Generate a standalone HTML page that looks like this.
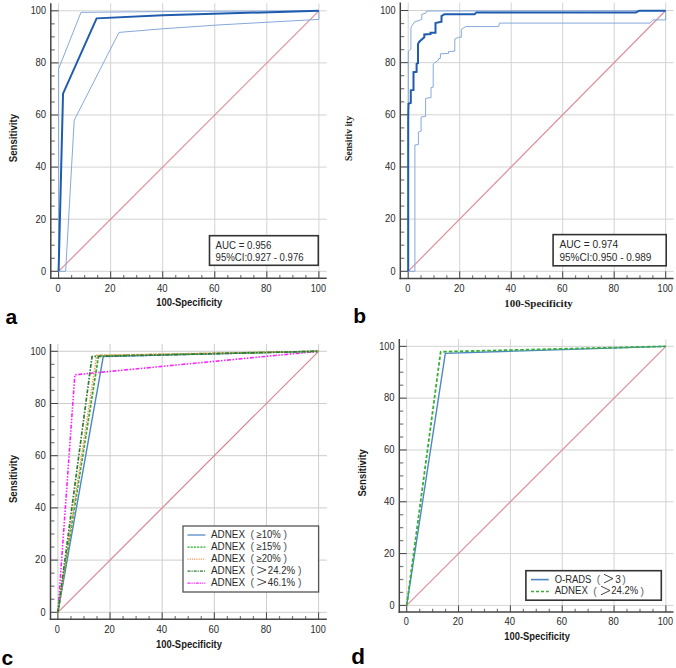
<!DOCTYPE html>
<html><head><meta charset="utf-8"><style>
html,body{margin:0;padding:0;background:#fff;}
svg{display:block;}
text{font-family:"Liberation Sans", sans-serif;}
.tl{font-size:10.5px;fill:#2a2a2a;}
</style></head><body>
<svg width="676" height="668" viewBox="0 0 676 668" font-family='"Liberation Sans", sans-serif'>
<rect width="676" height="668" fill="#fff"/>
<line x1="58.6" y1="3.3" x2="58.6" y2="278.3" stroke="#d3d3d3" stroke-width="1"/>
<line x1="50.8" y1="271.3" x2="326.7" y2="271.3" stroke="#d3d3d3" stroke-width="1"/>
<line x1="110.66" y1="3.3" x2="110.66" y2="278.3" stroke="#d3d3d3" stroke-width="1"/>
<line x1="50.8" y1="219.2" x2="326.7" y2="219.2" stroke="#d3d3d3" stroke-width="1"/>
<line x1="162.72" y1="3.3" x2="162.72" y2="278.3" stroke="#d3d3d3" stroke-width="1"/>
<line x1="50.8" y1="167.1" x2="326.7" y2="167.1" stroke="#d3d3d3" stroke-width="1"/>
<line x1="214.78" y1="3.3" x2="214.78" y2="278.3" stroke="#d3d3d3" stroke-width="1"/>
<line x1="50.8" y1="115" x2="326.7" y2="115" stroke="#d3d3d3" stroke-width="1"/>
<line x1="266.84" y1="3.3" x2="266.84" y2="278.3" stroke="#d3d3d3" stroke-width="1"/>
<line x1="50.8" y1="62.9" x2="326.7" y2="62.9" stroke="#d3d3d3" stroke-width="1"/>
<line x1="318.9" y1="3.3" x2="318.9" y2="278.3" stroke="#d3d3d3" stroke-width="1"/>
<line x1="50.8" y1="10.8" x2="326.7" y2="10.8" stroke="#d3d3d3" stroke-width="1"/>
<line x1="50.8" y1="271.3" x2="58.6" y2="271.3" stroke="#454545" stroke-width="1"/>
<line x1="58.6" y1="278.3" x2="58.6" y2="271.3" stroke="#454545" stroke-width="1"/>
<line x1="50.8" y1="258.28" x2="54.8" y2="258.28" stroke="#7a7a7a" stroke-width="1.2"/>
<line x1="71.61" y1="278.3" x2="71.61" y2="275.1" stroke="#7a7a7a" stroke-width="1.2"/>
<line x1="50.8" y1="245.25" x2="54.8" y2="245.25" stroke="#7a7a7a" stroke-width="1.2"/>
<line x1="84.63" y1="278.3" x2="84.63" y2="275.1" stroke="#7a7a7a" stroke-width="1.2"/>
<line x1="50.8" y1="232.23" x2="54.8" y2="232.23" stroke="#7a7a7a" stroke-width="1.2"/>
<line x1="97.64" y1="278.3" x2="97.64" y2="275.1" stroke="#7a7a7a" stroke-width="1.2"/>
<line x1="50.8" y1="219.2" x2="58.6" y2="219.2" stroke="#454545" stroke-width="1"/>
<line x1="110.66" y1="278.3" x2="110.66" y2="271.3" stroke="#454545" stroke-width="1"/>
<line x1="50.8" y1="206.18" x2="54.8" y2="206.18" stroke="#7a7a7a" stroke-width="1.2"/>
<line x1="123.67" y1="278.3" x2="123.67" y2="275.1" stroke="#7a7a7a" stroke-width="1.2"/>
<line x1="50.8" y1="193.15" x2="54.8" y2="193.15" stroke="#7a7a7a" stroke-width="1.2"/>
<line x1="136.69" y1="278.3" x2="136.69" y2="275.1" stroke="#7a7a7a" stroke-width="1.2"/>
<line x1="50.8" y1="180.12" x2="54.8" y2="180.12" stroke="#7a7a7a" stroke-width="1.2"/>
<line x1="149.7" y1="278.3" x2="149.7" y2="275.1" stroke="#7a7a7a" stroke-width="1.2"/>
<line x1="50.8" y1="167.1" x2="58.6" y2="167.1" stroke="#454545" stroke-width="1"/>
<line x1="162.72" y1="278.3" x2="162.72" y2="271.3" stroke="#454545" stroke-width="1"/>
<line x1="50.8" y1="154.08" x2="54.8" y2="154.08" stroke="#7a7a7a" stroke-width="1.2"/>
<line x1="175.73" y1="278.3" x2="175.73" y2="275.1" stroke="#7a7a7a" stroke-width="1.2"/>
<line x1="50.8" y1="141.05" x2="54.8" y2="141.05" stroke="#7a7a7a" stroke-width="1.2"/>
<line x1="188.75" y1="278.3" x2="188.75" y2="275.1" stroke="#7a7a7a" stroke-width="1.2"/>
<line x1="50.8" y1="128.03" x2="54.8" y2="128.03" stroke="#7a7a7a" stroke-width="1.2"/>
<line x1="201.76" y1="278.3" x2="201.76" y2="275.1" stroke="#7a7a7a" stroke-width="1.2"/>
<line x1="50.8" y1="115" x2="58.6" y2="115" stroke="#454545" stroke-width="1"/>
<line x1="214.78" y1="278.3" x2="214.78" y2="271.3" stroke="#454545" stroke-width="1"/>
<line x1="50.8" y1="101.98" x2="54.8" y2="101.98" stroke="#7a7a7a" stroke-width="1.2"/>
<line x1="227.79" y1="278.3" x2="227.79" y2="275.1" stroke="#7a7a7a" stroke-width="1.2"/>
<line x1="50.8" y1="88.95" x2="54.8" y2="88.95" stroke="#7a7a7a" stroke-width="1.2"/>
<line x1="240.81" y1="278.3" x2="240.81" y2="275.1" stroke="#7a7a7a" stroke-width="1.2"/>
<line x1="50.8" y1="75.93" x2="54.8" y2="75.93" stroke="#7a7a7a" stroke-width="1.2"/>
<line x1="253.82" y1="278.3" x2="253.82" y2="275.1" stroke="#7a7a7a" stroke-width="1.2"/>
<line x1="50.8" y1="62.9" x2="58.6" y2="62.9" stroke="#454545" stroke-width="1"/>
<line x1="266.84" y1="278.3" x2="266.84" y2="271.3" stroke="#454545" stroke-width="1"/>
<line x1="50.8" y1="49.88" x2="54.8" y2="49.88" stroke="#7a7a7a" stroke-width="1.2"/>
<line x1="279.85" y1="278.3" x2="279.85" y2="275.1" stroke="#7a7a7a" stroke-width="1.2"/>
<line x1="50.8" y1="36.85" x2="54.8" y2="36.85" stroke="#7a7a7a" stroke-width="1.2"/>
<line x1="292.87" y1="278.3" x2="292.87" y2="275.1" stroke="#7a7a7a" stroke-width="1.2"/>
<line x1="50.8" y1="23.83" x2="54.8" y2="23.83" stroke="#7a7a7a" stroke-width="1.2"/>
<line x1="305.88" y1="278.3" x2="305.88" y2="275.1" stroke="#7a7a7a" stroke-width="1.2"/>
<line x1="50.8" y1="10.8" x2="58.6" y2="10.8" stroke="#454545" stroke-width="1"/>
<line x1="318.9" y1="278.3" x2="318.9" y2="271.3" stroke="#454545" stroke-width="1"/>
<line x1="50.8" y1="3.3" x2="50.8" y2="279.05" stroke="#454545" stroke-width="1.5"/>
<line x1="50.05" y1="278.3" x2="326.7" y2="278.3" stroke="#454545" stroke-width="1.5"/>
<text x="46" y="274.6" text-anchor="end" class="tl" textLength="5.1" lengthAdjust="spacingAndGlyphs">0</text>
<text x="58.1" y="291.7" text-anchor="middle" class="tl" textLength="5.1" lengthAdjust="spacingAndGlyphs">0</text>
<text x="46" y="222.5" text-anchor="end" class="tl" textLength="10.6" lengthAdjust="spacingAndGlyphs">20</text>
<text x="110.16" y="291.7" text-anchor="middle" class="tl" textLength="10.6" lengthAdjust="spacingAndGlyphs">20</text>
<text x="46" y="170.4" text-anchor="end" class="tl" textLength="10.6" lengthAdjust="spacingAndGlyphs">40</text>
<text x="162.22" y="291.7" text-anchor="middle" class="tl" textLength="10.6" lengthAdjust="spacingAndGlyphs">40</text>
<text x="46" y="118.3" text-anchor="end" class="tl" textLength="10.6" lengthAdjust="spacingAndGlyphs">60</text>
<text x="214.28" y="291.7" text-anchor="middle" class="tl" textLength="10.6" lengthAdjust="spacingAndGlyphs">60</text>
<text x="46" y="66.2" text-anchor="end" class="tl" textLength="10.6" lengthAdjust="spacingAndGlyphs">80</text>
<text x="266.34" y="291.7" text-anchor="middle" class="tl" textLength="10.6" lengthAdjust="spacingAndGlyphs">80</text>
<text x="46" y="14.1" text-anchor="end" class="tl" textLength="15.2" lengthAdjust="spacingAndGlyphs">100</text>
<text x="318.4" y="291.7" text-anchor="middle" class="tl" textLength="15.2" lengthAdjust="spacingAndGlyphs">100</text>
<line x1="58.6" y1="271.3" x2="318.9" y2="10.8" stroke="#df8e9a" stroke-width="1.2"/>
<polyline points="58.6,271.3 58.6,68.89 80.99,12.36 188.75,11.32 318.9,10.8" fill="none" stroke="#86a9dc" stroke-width="1" stroke-linejoin="miter" stroke-opacity="1"/>
<polyline points="58.6,271.3 65.63,271.3 74.22,120.21 118.99,32.42 162.72,28.77 219.99,24.87 318.9,19.4 318.9,10.8" fill="none" stroke="#86a9dc" stroke-width="1" stroke-linejoin="miter" stroke-opacity="1"/>
<polyline points="58.6,271.3 63.03,93.64 96.6,18.35 162.72,15.23 318.9,10.8" fill="none" stroke="#1f5cae" stroke-width="2" stroke-linejoin="miter" stroke-opacity="1"/>
<rect x="209.5" y="235.7" width="108.8" height="29.6" fill="#fff" stroke="#333" stroke-width="1.6"/>
<text x="215.6" y="248.7" font-size="10.5" text-anchor="start" fill="#2a2a2a" textLength="55.7" lengthAdjust="spacingAndGlyphs" >AUC = 0.956</text>
<text x="215.6" y="260.8" font-size="10.5" text-anchor="start" fill="#2a2a2a" textLength="88" lengthAdjust="spacingAndGlyphs" >95%CI:0.927 - 0.976</text>
<text x="189.2" y="306.2" text-anchor="middle" style='font-family:"Liberation Sans", sans-serif' font-weight="bold" font-size="10.5" textLength="66" lengthAdjust="spacingAndGlyphs" fill="#1a1a1a">100-Specificity</text>
<text transform="translate(17.3,138.1) rotate(-90)" x="0" y="0" text-anchor="middle" style='font-family:"Liberation Sans", sans-serif' font-weight="bold" font-size="10.2" textLength="48.2" lengthAdjust="spacingAndGlyphs" fill="#1a1a1a">Sensitivity</text>
<text x="5.5" y="324.3" style='font-family:"Liberation Sans", sans-serif' font-weight="bold" font-size="21" fill="#000">a</text>
<line x1="408.2" y1="2.6" x2="408.2" y2="278.5" stroke="#d3d3d3" stroke-width="1"/>
<line x1="400.3" y1="271.3" x2="673.6" y2="271.3" stroke="#d3d3d3" stroke-width="1"/>
<line x1="459.7" y1="2.6" x2="459.7" y2="278.5" stroke="#d3d3d3" stroke-width="1"/>
<line x1="400.3" y1="219.14" x2="673.6" y2="219.14" stroke="#d3d3d3" stroke-width="1"/>
<line x1="511.2" y1="2.6" x2="511.2" y2="278.5" stroke="#d3d3d3" stroke-width="1"/>
<line x1="400.3" y1="166.98" x2="673.6" y2="166.98" stroke="#d3d3d3" stroke-width="1"/>
<line x1="562.7" y1="2.6" x2="562.7" y2="278.5" stroke="#d3d3d3" stroke-width="1"/>
<line x1="400.3" y1="114.82" x2="673.6" y2="114.82" stroke="#d3d3d3" stroke-width="1"/>
<line x1="614.2" y1="2.6" x2="614.2" y2="278.5" stroke="#d3d3d3" stroke-width="1"/>
<line x1="400.3" y1="62.66" x2="673.6" y2="62.66" stroke="#d3d3d3" stroke-width="1"/>
<line x1="665.7" y1="2.6" x2="665.7" y2="278.5" stroke="#d3d3d3" stroke-width="1"/>
<line x1="400.3" y1="10.5" x2="673.6" y2="10.5" stroke="#d3d3d3" stroke-width="1"/>
<line x1="400.3" y1="271.3" x2="408.2" y2="271.3" stroke="#454545" stroke-width="1"/>
<line x1="408.2" y1="278.5" x2="408.2" y2="271.3" stroke="#454545" stroke-width="1"/>
<line x1="400.3" y1="258.26" x2="404.3" y2="258.26" stroke="#7a7a7a" stroke-width="1.2"/>
<line x1="421.07" y1="278.5" x2="421.07" y2="275.3" stroke="#7a7a7a" stroke-width="1.2"/>
<line x1="400.3" y1="245.22" x2="404.3" y2="245.22" stroke="#7a7a7a" stroke-width="1.2"/>
<line x1="433.95" y1="278.5" x2="433.95" y2="275.3" stroke="#7a7a7a" stroke-width="1.2"/>
<line x1="400.3" y1="232.18" x2="404.3" y2="232.18" stroke="#7a7a7a" stroke-width="1.2"/>
<line x1="446.82" y1="278.5" x2="446.82" y2="275.3" stroke="#7a7a7a" stroke-width="1.2"/>
<line x1="400.3" y1="219.14" x2="408.2" y2="219.14" stroke="#454545" stroke-width="1"/>
<line x1="459.7" y1="278.5" x2="459.7" y2="271.3" stroke="#454545" stroke-width="1"/>
<line x1="400.3" y1="206.1" x2="404.3" y2="206.1" stroke="#7a7a7a" stroke-width="1.2"/>
<line x1="472.57" y1="278.5" x2="472.57" y2="275.3" stroke="#7a7a7a" stroke-width="1.2"/>
<line x1="400.3" y1="193.06" x2="404.3" y2="193.06" stroke="#7a7a7a" stroke-width="1.2"/>
<line x1="485.45" y1="278.5" x2="485.45" y2="275.3" stroke="#7a7a7a" stroke-width="1.2"/>
<line x1="400.3" y1="180.02" x2="404.3" y2="180.02" stroke="#7a7a7a" stroke-width="1.2"/>
<line x1="498.32" y1="278.5" x2="498.32" y2="275.3" stroke="#7a7a7a" stroke-width="1.2"/>
<line x1="400.3" y1="166.98" x2="408.2" y2="166.98" stroke="#454545" stroke-width="1"/>
<line x1="511.2" y1="278.5" x2="511.2" y2="271.3" stroke="#454545" stroke-width="1"/>
<line x1="400.3" y1="153.94" x2="404.3" y2="153.94" stroke="#7a7a7a" stroke-width="1.2"/>
<line x1="524.08" y1="278.5" x2="524.08" y2="275.3" stroke="#7a7a7a" stroke-width="1.2"/>
<line x1="400.3" y1="140.9" x2="404.3" y2="140.9" stroke="#7a7a7a" stroke-width="1.2"/>
<line x1="536.95" y1="278.5" x2="536.95" y2="275.3" stroke="#7a7a7a" stroke-width="1.2"/>
<line x1="400.3" y1="127.86" x2="404.3" y2="127.86" stroke="#7a7a7a" stroke-width="1.2"/>
<line x1="549.83" y1="278.5" x2="549.83" y2="275.3" stroke="#7a7a7a" stroke-width="1.2"/>
<line x1="400.3" y1="114.82" x2="408.2" y2="114.82" stroke="#454545" stroke-width="1"/>
<line x1="562.7" y1="278.5" x2="562.7" y2="271.3" stroke="#454545" stroke-width="1"/>
<line x1="400.3" y1="101.78" x2="404.3" y2="101.78" stroke="#7a7a7a" stroke-width="1.2"/>
<line x1="575.58" y1="278.5" x2="575.58" y2="275.3" stroke="#7a7a7a" stroke-width="1.2"/>
<line x1="400.3" y1="88.74" x2="404.3" y2="88.74" stroke="#7a7a7a" stroke-width="1.2"/>
<line x1="588.45" y1="278.5" x2="588.45" y2="275.3" stroke="#7a7a7a" stroke-width="1.2"/>
<line x1="400.3" y1="75.7" x2="404.3" y2="75.7" stroke="#7a7a7a" stroke-width="1.2"/>
<line x1="601.33" y1="278.5" x2="601.33" y2="275.3" stroke="#7a7a7a" stroke-width="1.2"/>
<line x1="400.3" y1="62.66" x2="408.2" y2="62.66" stroke="#454545" stroke-width="1"/>
<line x1="614.2" y1="278.5" x2="614.2" y2="271.3" stroke="#454545" stroke-width="1"/>
<line x1="400.3" y1="49.62" x2="404.3" y2="49.62" stroke="#7a7a7a" stroke-width="1.2"/>
<line x1="627.08" y1="278.5" x2="627.08" y2="275.3" stroke="#7a7a7a" stroke-width="1.2"/>
<line x1="400.3" y1="36.58" x2="404.3" y2="36.58" stroke="#7a7a7a" stroke-width="1.2"/>
<line x1="639.95" y1="278.5" x2="639.95" y2="275.3" stroke="#7a7a7a" stroke-width="1.2"/>
<line x1="400.3" y1="23.54" x2="404.3" y2="23.54" stroke="#7a7a7a" stroke-width="1.2"/>
<line x1="652.83" y1="278.5" x2="652.83" y2="275.3" stroke="#7a7a7a" stroke-width="1.2"/>
<line x1="400.3" y1="10.5" x2="408.2" y2="10.5" stroke="#454545" stroke-width="1"/>
<line x1="665.7" y1="278.5" x2="665.7" y2="271.3" stroke="#454545" stroke-width="1"/>
<line x1="400.3" y1="2.6" x2="400.3" y2="279.25" stroke="#454545" stroke-width="1.5"/>
<line x1="399.55" y1="278.5" x2="673.6" y2="278.5" stroke="#454545" stroke-width="1.5"/>
<text x="395.5" y="274.6" text-anchor="end" class="tl" textLength="5.1" lengthAdjust="spacingAndGlyphs">0</text>
<text x="407.7" y="292" text-anchor="middle" class="tl" textLength="5.1" lengthAdjust="spacingAndGlyphs">0</text>
<text x="395.5" y="222.44" text-anchor="end" class="tl" textLength="10.6" lengthAdjust="spacingAndGlyphs">20</text>
<text x="459.2" y="292" text-anchor="middle" class="tl" textLength="10.6" lengthAdjust="spacingAndGlyphs">20</text>
<text x="395.5" y="170.28" text-anchor="end" class="tl" textLength="10.6" lengthAdjust="spacingAndGlyphs">40</text>
<text x="510.7" y="292" text-anchor="middle" class="tl" textLength="10.6" lengthAdjust="spacingAndGlyphs">40</text>
<text x="395.5" y="118.12" text-anchor="end" class="tl" textLength="10.6" lengthAdjust="spacingAndGlyphs">60</text>
<text x="562.2" y="292" text-anchor="middle" class="tl" textLength="10.6" lengthAdjust="spacingAndGlyphs">60</text>
<text x="395.5" y="65.96" text-anchor="end" class="tl" textLength="10.6" lengthAdjust="spacingAndGlyphs">80</text>
<text x="613.7" y="292" text-anchor="middle" class="tl" textLength="10.6" lengthAdjust="spacingAndGlyphs">80</text>
<text x="395.5" y="13.8" text-anchor="end" class="tl" textLength="15.2" lengthAdjust="spacingAndGlyphs">100</text>
<text x="665.2" y="292" text-anchor="middle" class="tl" textLength="15.2" lengthAdjust="spacingAndGlyphs">100</text>
<line x1="408.2" y1="271.3" x2="665.7" y2="10.5" stroke="#df8e9a" stroke-width="1.2"/>
<polyline points="408.3,271.3 408.3,51.2 409.9,50.2 410.9,49.2 410.9,27.8 412.2,25.4 414.6,21.8 418.8,20.6 421.8,19.4 421.8,14.3 425.7,13.2 426.8,11 665.7,10.7" fill="none" stroke="#86a9dc" stroke-width="1" stroke-linejoin="miter" stroke-opacity="1"/>
<polyline points="408.2,271.3 414.9,271.3 414.9,145 418.4,144.5 418.4,132.1 421.1,131.2 421.1,117 425.6,116.4 425.6,98.4 431,97.5 431,87.6 433.2,87.2 433.2,64.1 434.6,62.8 435.9,61.9 438.6,60.1 438.6,58.7 440.4,58.3 440.4,53.8 448.5,53.4 448.5,51.6 454.8,51.1 454.8,39 458.6,37.3 461.3,37.3 461.3,29.3 465.7,26.6 498.6,26.6 499.5,23.1 650.1,23.1 652.8,19.9 665.7,19.9 665.7,10.7" fill="none" stroke="#86a9dc" stroke-width="1" stroke-linejoin="miter" stroke-opacity="1"/>
<polyline points="408.2,271.3 408.2,117.7 408.5,103.8 410.8,102.9 410.8,90.3 413.5,89.9 413.5,72.2 416.6,71.8 416.6,63.7 418,63.2 418,43.9 419.3,41.7 424.3,37.2 424.3,34.5 430.5,34 430.5,32.7 435.5,32.7 435.5,23 441.5,21.8 441.5,16.1 444.4,14.2 474.6,14.2 476.4,12.4 635.9,12.4 639.4,10.65 665.7,10.65" fill="none" stroke="#1f5cae" stroke-width="2" stroke-linejoin="miter" stroke-opacity="1"/>
<rect x="553.1" y="234.6" width="113.1" height="31.2" fill="#fff" stroke="#333" stroke-width="1.6"/>
<text x="559.4" y="248.1" font-size="10.5" text-anchor="start" fill="#2a2a2a" textLength="58.8" lengthAdjust="spacingAndGlyphs" >AUC = 0.974</text>
<text x="559.4" y="261" font-size="10.5" text-anchor="start" fill="#2a2a2a" textLength="92" lengthAdjust="spacingAndGlyphs" >95%CI:0.950 - 0.989</text>
<text x="538.5" y="307.2" text-anchor="middle" style='font-family:"Liberation Serif", serif' font-weight="bold" font-size="10.5" textLength="68.5" lengthAdjust="spacingAndGlyphs" fill="#1a1a1a">100-Specificity</text>
<text transform="translate(352.2,138.4) rotate(-90)" x="0" y="0" text-anchor="middle" style='font-family:"Liberation Serif", serif' font-weight="bold" font-size="10.5" textLength="45" lengthAdjust="spacingAndGlyphs" fill="#1a1a1a">Sensitiv ity</text>
<text x="353.3" y="323.4" style='font-family:"Liberation Sans", sans-serif' font-weight="bold" font-size="21" fill="#000">b</text>
<line x1="57.9" y1="344" x2="57.9" y2="619.2" stroke="#cdcdcd" stroke-width="1"/>
<line x1="50.5" y1="612.3" x2="326.9" y2="612.3" stroke="#cdcdcd" stroke-width="1"/>
<line x1="110.04" y1="344" x2="110.04" y2="619.2" stroke="#cdcdcd" stroke-width="1"/>
<line x1="50.5" y1="560.1" x2="326.9" y2="560.1" stroke="#cdcdcd" stroke-width="1"/>
<line x1="162.18" y1="344" x2="162.18" y2="619.2" stroke="#cdcdcd" stroke-width="1"/>
<line x1="50.5" y1="507.9" x2="326.9" y2="507.9" stroke="#cdcdcd" stroke-width="1"/>
<line x1="214.32" y1="344" x2="214.32" y2="619.2" stroke="#cdcdcd" stroke-width="1"/>
<line x1="50.5" y1="455.7" x2="326.9" y2="455.7" stroke="#cdcdcd" stroke-width="1"/>
<line x1="266.46" y1="344" x2="266.46" y2="619.2" stroke="#cdcdcd" stroke-width="1"/>
<line x1="50.5" y1="403.5" x2="326.9" y2="403.5" stroke="#cdcdcd" stroke-width="1"/>
<line x1="318.6" y1="344" x2="318.6" y2="619.2" stroke="#cdcdcd" stroke-width="1"/>
<line x1="50.5" y1="351.3" x2="326.9" y2="351.3" stroke="#cdcdcd" stroke-width="1"/>
<line x1="50.5" y1="612.3" x2="57.9" y2="612.3" stroke="#454545" stroke-width="1"/>
<line x1="57.9" y1="619.2" x2="57.9" y2="612.3" stroke="#454545" stroke-width="1"/>
<line x1="50.5" y1="599.25" x2="54.5" y2="599.25" stroke="#7a7a7a" stroke-width="1.2"/>
<line x1="70.94" y1="619.2" x2="70.94" y2="616" stroke="#7a7a7a" stroke-width="1.2"/>
<line x1="50.5" y1="586.2" x2="54.5" y2="586.2" stroke="#7a7a7a" stroke-width="1.2"/>
<line x1="83.97" y1="619.2" x2="83.97" y2="616" stroke="#7a7a7a" stroke-width="1.2"/>
<line x1="50.5" y1="573.15" x2="54.5" y2="573.15" stroke="#7a7a7a" stroke-width="1.2"/>
<line x1="97.01" y1="619.2" x2="97.01" y2="616" stroke="#7a7a7a" stroke-width="1.2"/>
<line x1="50.5" y1="560.1" x2="57.9" y2="560.1" stroke="#454545" stroke-width="1"/>
<line x1="110.04" y1="619.2" x2="110.04" y2="612.3" stroke="#454545" stroke-width="1"/>
<line x1="50.5" y1="547.05" x2="54.5" y2="547.05" stroke="#7a7a7a" stroke-width="1.2"/>
<line x1="123.08" y1="619.2" x2="123.08" y2="616" stroke="#7a7a7a" stroke-width="1.2"/>
<line x1="50.5" y1="534" x2="54.5" y2="534" stroke="#7a7a7a" stroke-width="1.2"/>
<line x1="136.11" y1="619.2" x2="136.11" y2="616" stroke="#7a7a7a" stroke-width="1.2"/>
<line x1="50.5" y1="520.95" x2="54.5" y2="520.95" stroke="#7a7a7a" stroke-width="1.2"/>
<line x1="149.15" y1="619.2" x2="149.15" y2="616" stroke="#7a7a7a" stroke-width="1.2"/>
<line x1="50.5" y1="507.9" x2="57.9" y2="507.9" stroke="#454545" stroke-width="1"/>
<line x1="162.18" y1="619.2" x2="162.18" y2="612.3" stroke="#454545" stroke-width="1"/>
<line x1="50.5" y1="494.85" x2="54.5" y2="494.85" stroke="#7a7a7a" stroke-width="1.2"/>
<line x1="175.22" y1="619.2" x2="175.22" y2="616" stroke="#7a7a7a" stroke-width="1.2"/>
<line x1="50.5" y1="481.8" x2="54.5" y2="481.8" stroke="#7a7a7a" stroke-width="1.2"/>
<line x1="188.25" y1="619.2" x2="188.25" y2="616" stroke="#7a7a7a" stroke-width="1.2"/>
<line x1="50.5" y1="468.75" x2="54.5" y2="468.75" stroke="#7a7a7a" stroke-width="1.2"/>
<line x1="201.29" y1="619.2" x2="201.29" y2="616" stroke="#7a7a7a" stroke-width="1.2"/>
<line x1="50.5" y1="455.7" x2="57.9" y2="455.7" stroke="#454545" stroke-width="1"/>
<line x1="214.32" y1="619.2" x2="214.32" y2="612.3" stroke="#454545" stroke-width="1"/>
<line x1="50.5" y1="442.65" x2="54.5" y2="442.65" stroke="#7a7a7a" stroke-width="1.2"/>
<line x1="227.36" y1="619.2" x2="227.36" y2="616" stroke="#7a7a7a" stroke-width="1.2"/>
<line x1="50.5" y1="429.6" x2="54.5" y2="429.6" stroke="#7a7a7a" stroke-width="1.2"/>
<line x1="240.39" y1="619.2" x2="240.39" y2="616" stroke="#7a7a7a" stroke-width="1.2"/>
<line x1="50.5" y1="416.55" x2="54.5" y2="416.55" stroke="#7a7a7a" stroke-width="1.2"/>
<line x1="253.43" y1="619.2" x2="253.43" y2="616" stroke="#7a7a7a" stroke-width="1.2"/>
<line x1="50.5" y1="403.5" x2="57.9" y2="403.5" stroke="#454545" stroke-width="1"/>
<line x1="266.46" y1="619.2" x2="266.46" y2="612.3" stroke="#454545" stroke-width="1"/>
<line x1="50.5" y1="390.45" x2="54.5" y2="390.45" stroke="#7a7a7a" stroke-width="1.2"/>
<line x1="279.5" y1="619.2" x2="279.5" y2="616" stroke="#7a7a7a" stroke-width="1.2"/>
<line x1="50.5" y1="377.4" x2="54.5" y2="377.4" stroke="#7a7a7a" stroke-width="1.2"/>
<line x1="292.53" y1="619.2" x2="292.53" y2="616" stroke="#7a7a7a" stroke-width="1.2"/>
<line x1="50.5" y1="364.35" x2="54.5" y2="364.35" stroke="#7a7a7a" stroke-width="1.2"/>
<line x1="305.57" y1="619.2" x2="305.57" y2="616" stroke="#7a7a7a" stroke-width="1.2"/>
<line x1="50.5" y1="351.3" x2="57.9" y2="351.3" stroke="#454545" stroke-width="1"/>
<line x1="318.6" y1="619.2" x2="318.6" y2="612.3" stroke="#454545" stroke-width="1"/>
<line x1="50.5" y1="344" x2="50.5" y2="619.95" stroke="#454545" stroke-width="1.5"/>
<line x1="49.75" y1="619.2" x2="326.9" y2="619.2" stroke="#454545" stroke-width="1.5"/>
<text x="45.7" y="615.6" text-anchor="end" class="tl" textLength="5.1" lengthAdjust="spacingAndGlyphs">0</text>
<text x="57.4" y="632.8" text-anchor="middle" class="tl" textLength="5.1" lengthAdjust="spacingAndGlyphs">0</text>
<text x="45.7" y="563.4" text-anchor="end" class="tl" textLength="10.6" lengthAdjust="spacingAndGlyphs">20</text>
<text x="109.54" y="632.8" text-anchor="middle" class="tl" textLength="10.6" lengthAdjust="spacingAndGlyphs">20</text>
<text x="45.7" y="511.2" text-anchor="end" class="tl" textLength="10.6" lengthAdjust="spacingAndGlyphs">40</text>
<text x="161.68" y="632.8" text-anchor="middle" class="tl" textLength="10.6" lengthAdjust="spacingAndGlyphs">40</text>
<text x="45.7" y="459" text-anchor="end" class="tl" textLength="10.6" lengthAdjust="spacingAndGlyphs">60</text>
<text x="213.82" y="632.8" text-anchor="middle" class="tl" textLength="10.6" lengthAdjust="spacingAndGlyphs">60</text>
<text x="45.7" y="406.8" text-anchor="end" class="tl" textLength="10.6" lengthAdjust="spacingAndGlyphs">80</text>
<text x="265.96" y="632.8" text-anchor="middle" class="tl" textLength="10.6" lengthAdjust="spacingAndGlyphs">80</text>
<text x="45.7" y="354.6" text-anchor="end" class="tl" textLength="15.2" lengthAdjust="spacingAndGlyphs">100</text>
<text x="318.1" y="632.8" text-anchor="middle" class="tl" textLength="15.2" lengthAdjust="spacingAndGlyphs">100</text>
<line x1="57.9" y1="612.3" x2="318.6" y2="351.3" stroke="#d98592" stroke-width="1.2"/>
<polyline points="57.9,612.3 74.85,374.79 318.6,351.3" fill="none" stroke="#ff22ff" stroke-width="1.6" stroke-linejoin="miter" stroke-dasharray="4,1.5,1.5,1.5,1.5,1.5" stroke-opacity="1"/>
<polyline points="57.9,612.3 103.26,356.52 318.6,351.3" fill="none" stroke="#4f86c6" stroke-width="1.4" stroke-linejoin="miter" stroke-opacity="1"/>
<polyline points="57.9,612.3 98.57,355.74 318.6,351.3" fill="none" stroke="#2eaa2e" stroke-width="1.7" stroke-linejoin="miter" stroke-dasharray="3,1.5" stroke-opacity="1"/>
<polyline points="57.9,612.3 96.74,355.22 318.6,351.3" fill="none" stroke="#f59a5a" stroke-width="1.5" stroke-linejoin="miter" stroke-dasharray="1.5,1.2" stroke-opacity="1"/>
<polyline points="57.9,612.3 92.05,356.52 318.6,351.3" fill="none" stroke="#2f7d32" stroke-width="1.7" stroke-linejoin="miter" stroke-dasharray="4,1.5,1.5,1.5" stroke-opacity="1"/>
<rect x="183" y="526" width="135.6" height="66" fill="#fff" stroke="#555" stroke-width="1.3"/>
<line x1="187.5" y1="535" x2="205.4" y2="535" stroke="#4f86c6" stroke-width="1.25"/>
<text x="211" y="537.6" font-size="10" text-anchor="start" fill="#2a2a2a" textLength="34" lengthAdjust="spacingAndGlyphs" >ADNEX</text>
<text x="250.6" y="538.2" font-size="10.5" fill="#555" transform="">(</text>
<text x="256.6" y="537.6" font-size="10" text-anchor="start" fill="#2a2a2a" textLength="24.2" lengthAdjust="spacingAndGlyphs" >≥10%</text>
<text x="283.6" y="538.2" font-size="10.5" fill="#555">)</text>
<line x1="187.5" y1="547" x2="205.4" y2="547" stroke="#2eaa2e" stroke-width="1.25" stroke-dasharray="2.2,1"/>
<text x="211" y="549.6" font-size="10" text-anchor="start" fill="#2a2a2a" textLength="34" lengthAdjust="spacingAndGlyphs" >ADNEX</text>
<text x="250.6" y="550.2" font-size="10.5" fill="#555" transform="">(</text>
<text x="256.6" y="549.6" font-size="10" text-anchor="start" fill="#2a2a2a" textLength="24.2" lengthAdjust="spacingAndGlyphs" >≥15%</text>
<text x="283.6" y="550.2" font-size="10.5" fill="#555">)</text>
<line x1="187.5" y1="559" x2="205.4" y2="559" stroke="#f59a5a" stroke-width="1.25" stroke-dasharray="1.2,1"/>
<text x="211" y="561.6" font-size="10" text-anchor="start" fill="#2a2a2a" textLength="34" lengthAdjust="spacingAndGlyphs" >ADNEX</text>
<text x="250.6" y="562.2" font-size="10.5" fill="#555" transform="">(</text>
<text x="256.6" y="561.6" font-size="10" text-anchor="start" fill="#2a2a2a" textLength="24.2" lengthAdjust="spacingAndGlyphs" >≥20%</text>
<text x="283.6" y="562.2" font-size="10.5" fill="#555">)</text>
<line x1="187.5" y1="571" x2="205.4" y2="571" stroke="#2f7d32" stroke-width="1.25" stroke-dasharray="3,1,1.2,1"/>
<text x="211" y="573.6" font-size="10" text-anchor="start" fill="#2a2a2a" textLength="34" lengthAdjust="spacingAndGlyphs" >ADNEX</text>
<text x="250.6" y="574.2" font-size="10.5" fill="#555" transform="">(</text>
<polyline points="257.3,566.6 266.1,570 257.3,573.4" fill="none" stroke="#333" stroke-width="0.9"/>
<text x="267.8" y="573.6" font-size="10" text-anchor="start" fill="#2a2a2a" textLength="27.2" lengthAdjust="spacingAndGlyphs" >24.2%</text>
<text x="298" y="574.2" font-size="10.5" fill="#555">)</text>
<line x1="187.5" y1="583" x2="205.4" y2="583" stroke="#ff22ff" stroke-width="1.25" stroke-dasharray="3,1,1.2,1,1.2,1"/>
<text x="211" y="585.6" font-size="10" text-anchor="start" fill="#2a2a2a" textLength="34" lengthAdjust="spacingAndGlyphs" >ADNEX</text>
<text x="250.6" y="586.2" font-size="10.5" fill="#555" transform="">(</text>
<polyline points="257.3,578.6 266.1,582 257.3,585.4" fill="none" stroke="#333" stroke-width="0.9"/>
<text x="267.8" y="585.6" font-size="10" text-anchor="start" fill="#2a2a2a" textLength="27.2" lengthAdjust="spacingAndGlyphs" >46.1%</text>
<text x="298" y="586.2" font-size="10.5" fill="#555">)</text>
<text x="189" y="647.8" text-anchor="middle" style='font-family:"Liberation Sans", sans-serif' font-weight="bold" font-size="10.5" textLength="66" lengthAdjust="spacingAndGlyphs" fill="#1a1a1a">100-Specificity</text>
<text transform="translate(17.3,479) rotate(-90)" x="0" y="0" text-anchor="middle" style='font-family:"Liberation Sans", sans-serif' font-weight="bold" font-size="10.2" textLength="48.2" lengthAdjust="spacingAndGlyphs" fill="#1a1a1a">Sensitivity</text>
<text x="1.4" y="665.1" style='font-family:"Liberation Sans", sans-serif' font-weight="bold" font-size="21" fill="#000">c</text>
<line x1="406.7" y1="339.1" x2="406.7" y2="611.9" stroke="#d3d3d3" stroke-width="1"/>
<line x1="399.3" y1="605.4" x2="673.5" y2="605.4" stroke="#d3d3d3" stroke-width="1"/>
<line x1="458.54" y1="339.1" x2="458.54" y2="611.9" stroke="#d3d3d3" stroke-width="1"/>
<line x1="399.3" y1="553.59" x2="673.5" y2="553.59" stroke="#d3d3d3" stroke-width="1"/>
<line x1="510.38" y1="339.1" x2="510.38" y2="611.9" stroke="#d3d3d3" stroke-width="1"/>
<line x1="399.3" y1="501.78" x2="673.5" y2="501.78" stroke="#d3d3d3" stroke-width="1"/>
<line x1="562.22" y1="339.1" x2="562.22" y2="611.9" stroke="#d3d3d3" stroke-width="1"/>
<line x1="399.3" y1="449.97" x2="673.5" y2="449.97" stroke="#d3d3d3" stroke-width="1"/>
<line x1="614.06" y1="339.1" x2="614.06" y2="611.9" stroke="#d3d3d3" stroke-width="1"/>
<line x1="399.3" y1="398.16" x2="673.5" y2="398.16" stroke="#d3d3d3" stroke-width="1"/>
<line x1="665.9" y1="339.1" x2="665.9" y2="611.9" stroke="#d3d3d3" stroke-width="1"/>
<line x1="399.3" y1="346.35" x2="673.5" y2="346.35" stroke="#d3d3d3" stroke-width="1"/>
<line x1="399.3" y1="605.4" x2="406.7" y2="605.4" stroke="#454545" stroke-width="1"/>
<line x1="406.7" y1="611.9" x2="406.7" y2="605.4" stroke="#454545" stroke-width="1"/>
<line x1="399.3" y1="592.45" x2="403.3" y2="592.45" stroke="#7a7a7a" stroke-width="1.2"/>
<line x1="419.66" y1="611.9" x2="419.66" y2="608.7" stroke="#7a7a7a" stroke-width="1.2"/>
<line x1="399.3" y1="579.5" x2="403.3" y2="579.5" stroke="#7a7a7a" stroke-width="1.2"/>
<line x1="432.62" y1="611.9" x2="432.62" y2="608.7" stroke="#7a7a7a" stroke-width="1.2"/>
<line x1="399.3" y1="566.54" x2="403.3" y2="566.54" stroke="#7a7a7a" stroke-width="1.2"/>
<line x1="445.58" y1="611.9" x2="445.58" y2="608.7" stroke="#7a7a7a" stroke-width="1.2"/>
<line x1="399.3" y1="553.59" x2="406.7" y2="553.59" stroke="#454545" stroke-width="1"/>
<line x1="458.54" y1="611.9" x2="458.54" y2="605.4" stroke="#454545" stroke-width="1"/>
<line x1="399.3" y1="540.64" x2="403.3" y2="540.64" stroke="#7a7a7a" stroke-width="1.2"/>
<line x1="471.5" y1="611.9" x2="471.5" y2="608.7" stroke="#7a7a7a" stroke-width="1.2"/>
<line x1="399.3" y1="527.68" x2="403.3" y2="527.68" stroke="#7a7a7a" stroke-width="1.2"/>
<line x1="484.46" y1="611.9" x2="484.46" y2="608.7" stroke="#7a7a7a" stroke-width="1.2"/>
<line x1="399.3" y1="514.73" x2="403.3" y2="514.73" stroke="#7a7a7a" stroke-width="1.2"/>
<line x1="497.42" y1="611.9" x2="497.42" y2="608.7" stroke="#7a7a7a" stroke-width="1.2"/>
<line x1="399.3" y1="501.78" x2="406.7" y2="501.78" stroke="#454545" stroke-width="1"/>
<line x1="510.38" y1="611.9" x2="510.38" y2="605.4" stroke="#454545" stroke-width="1"/>
<line x1="399.3" y1="488.83" x2="403.3" y2="488.83" stroke="#7a7a7a" stroke-width="1.2"/>
<line x1="523.34" y1="611.9" x2="523.34" y2="608.7" stroke="#7a7a7a" stroke-width="1.2"/>
<line x1="399.3" y1="475.88" x2="403.3" y2="475.88" stroke="#7a7a7a" stroke-width="1.2"/>
<line x1="536.3" y1="611.9" x2="536.3" y2="608.7" stroke="#7a7a7a" stroke-width="1.2"/>
<line x1="399.3" y1="462.92" x2="403.3" y2="462.92" stroke="#7a7a7a" stroke-width="1.2"/>
<line x1="549.26" y1="611.9" x2="549.26" y2="608.7" stroke="#7a7a7a" stroke-width="1.2"/>
<line x1="399.3" y1="449.97" x2="406.7" y2="449.97" stroke="#454545" stroke-width="1"/>
<line x1="562.22" y1="611.9" x2="562.22" y2="605.4" stroke="#454545" stroke-width="1"/>
<line x1="399.3" y1="437.02" x2="403.3" y2="437.02" stroke="#7a7a7a" stroke-width="1.2"/>
<line x1="575.18" y1="611.9" x2="575.18" y2="608.7" stroke="#7a7a7a" stroke-width="1.2"/>
<line x1="399.3" y1="424.07" x2="403.3" y2="424.07" stroke="#7a7a7a" stroke-width="1.2"/>
<line x1="588.14" y1="611.9" x2="588.14" y2="608.7" stroke="#7a7a7a" stroke-width="1.2"/>
<line x1="399.3" y1="411.11" x2="403.3" y2="411.11" stroke="#7a7a7a" stroke-width="1.2"/>
<line x1="601.1" y1="611.9" x2="601.1" y2="608.7" stroke="#7a7a7a" stroke-width="1.2"/>
<line x1="399.3" y1="398.16" x2="406.7" y2="398.16" stroke="#454545" stroke-width="1"/>
<line x1="614.06" y1="611.9" x2="614.06" y2="605.4" stroke="#454545" stroke-width="1"/>
<line x1="399.3" y1="385.21" x2="403.3" y2="385.21" stroke="#7a7a7a" stroke-width="1.2"/>
<line x1="627.02" y1="611.9" x2="627.02" y2="608.7" stroke="#7a7a7a" stroke-width="1.2"/>
<line x1="399.3" y1="372.25" x2="403.3" y2="372.25" stroke="#7a7a7a" stroke-width="1.2"/>
<line x1="639.98" y1="611.9" x2="639.98" y2="608.7" stroke="#7a7a7a" stroke-width="1.2"/>
<line x1="399.3" y1="359.3" x2="403.3" y2="359.3" stroke="#7a7a7a" stroke-width="1.2"/>
<line x1="652.94" y1="611.9" x2="652.94" y2="608.7" stroke="#7a7a7a" stroke-width="1.2"/>
<line x1="399.3" y1="346.35" x2="406.7" y2="346.35" stroke="#454545" stroke-width="1"/>
<line x1="665.9" y1="611.9" x2="665.9" y2="605.4" stroke="#454545" stroke-width="1"/>
<line x1="399.3" y1="339.1" x2="399.3" y2="612.65" stroke="#454545" stroke-width="1.5"/>
<line x1="398.55" y1="611.9" x2="673.5" y2="611.9" stroke="#454545" stroke-width="1.5"/>
<text x="394.5" y="608.7" text-anchor="end" class="tl" textLength="5.1" lengthAdjust="spacingAndGlyphs">0</text>
<text x="406.2" y="625.2" text-anchor="middle" class="tl" textLength="5.1" lengthAdjust="spacingAndGlyphs">0</text>
<text x="394.5" y="556.89" text-anchor="end" class="tl" textLength="10.6" lengthAdjust="spacingAndGlyphs">20</text>
<text x="458.04" y="625.2" text-anchor="middle" class="tl" textLength="10.6" lengthAdjust="spacingAndGlyphs">20</text>
<text x="394.5" y="505.08" text-anchor="end" class="tl" textLength="10.6" lengthAdjust="spacingAndGlyphs">40</text>
<text x="509.88" y="625.2" text-anchor="middle" class="tl" textLength="10.6" lengthAdjust="spacingAndGlyphs">40</text>
<text x="394.5" y="453.27" text-anchor="end" class="tl" textLength="10.6" lengthAdjust="spacingAndGlyphs">60</text>
<text x="561.72" y="625.2" text-anchor="middle" class="tl" textLength="10.6" lengthAdjust="spacingAndGlyphs">60</text>
<text x="394.5" y="401.46" text-anchor="end" class="tl" textLength="10.6" lengthAdjust="spacingAndGlyphs">80</text>
<text x="613.56" y="625.2" text-anchor="middle" class="tl" textLength="10.6" lengthAdjust="spacingAndGlyphs">80</text>
<text x="394.5" y="349.65" text-anchor="end" class="tl" textLength="15.2" lengthAdjust="spacingAndGlyphs">100</text>
<text x="665.4" y="625.2" text-anchor="middle" class="tl" textLength="15.2" lengthAdjust="spacingAndGlyphs">100</text>
<line x1="406.7" y1="605.4" x2="665.9" y2="346.35" stroke="#df8e9a" stroke-width="1.2"/>
<polyline points="406.7,605.4 445.32,353.34 665.9,346.35" fill="none" stroke="#4f86c6" stroke-width="1.4" stroke-linejoin="miter" stroke-opacity="1"/>
<polyline points="406.7,605.4 440.66,351.79 665.9,346.35" fill="none" stroke="#35b035" stroke-width="1.8" stroke-linejoin="miter" stroke-dasharray="3.5,2" stroke-opacity="1"/>
<rect x="525.9" y="570.7" width="135.4" height="29.5" fill="#fff" stroke="#333" stroke-width="1.6"/>
<line x1="531" y1="579.6" x2="548.8" y2="579.6" stroke="#4f86c6" stroke-width="1.6"/>
<line x1="531" y1="591.5" x2="548.8" y2="591.5" stroke="#35b035" stroke-width="1.6" stroke-dasharray="3,2"/>
<text x="554.7" y="582.5" font-size="10" text-anchor="start" fill="#2a2a2a" textLength="36.7" lengthAdjust="spacingAndGlyphs" >O-RADS</text>
<text x="554.7" y="594.4" font-size="10" text-anchor="start" fill="#2a2a2a" textLength="33.2" lengthAdjust="spacingAndGlyphs" >ADNEX</text>
<text x="596.8" y="583.1" font-size="10.5" fill="#666">(</text>
<polyline points="604,574.3 613,578.6 604,582.9" fill="none" stroke="#3a3a3a" stroke-width="0.95"/>
<text x="615.2" y="582.5" font-size="10" text-anchor="start" fill="#2a2a2a" textLength="5.6" lengthAdjust="spacingAndGlyphs" >3</text>
<text x="622.2" y="583.1" font-size="10.5" fill="#666">)</text>
<text x="593.3" y="595" font-size="10.5" fill="#666">(</text>
<polyline points="601,586.2 610,590.5 601,594.8" fill="none" stroke="#3a3a3a" stroke-width="0.95"/>
<text x="611.3" y="594.4" font-size="10" text-anchor="start" fill="#2a2a2a" textLength="26.8" lengthAdjust="spacingAndGlyphs" >24.2%</text>
<text x="640.6" y="595" font-size="10.5" fill="#666">)</text>
<text x="537.1" y="640.3" text-anchor="middle" style='font-family:"Liberation Sans", sans-serif' font-weight="bold" font-size="10.5" textLength="65.6" lengthAdjust="spacingAndGlyphs" fill="#1a1a1a">100-Specificity</text>
<text transform="translate(366.1,472.8) rotate(-90)" x="0" y="0" text-anchor="middle" style='font-family:"Liberation Sans", sans-serif' font-weight="bold" font-size="10.2" textLength="47.3" lengthAdjust="spacingAndGlyphs" fill="#1a1a1a">Sensitivity</text>
<text x="351.2" y="663.8" style='font-family:"Liberation Sans", sans-serif' font-weight="bold" font-size="22.5" fill="#000">d</text>
</svg>
</body></html>
